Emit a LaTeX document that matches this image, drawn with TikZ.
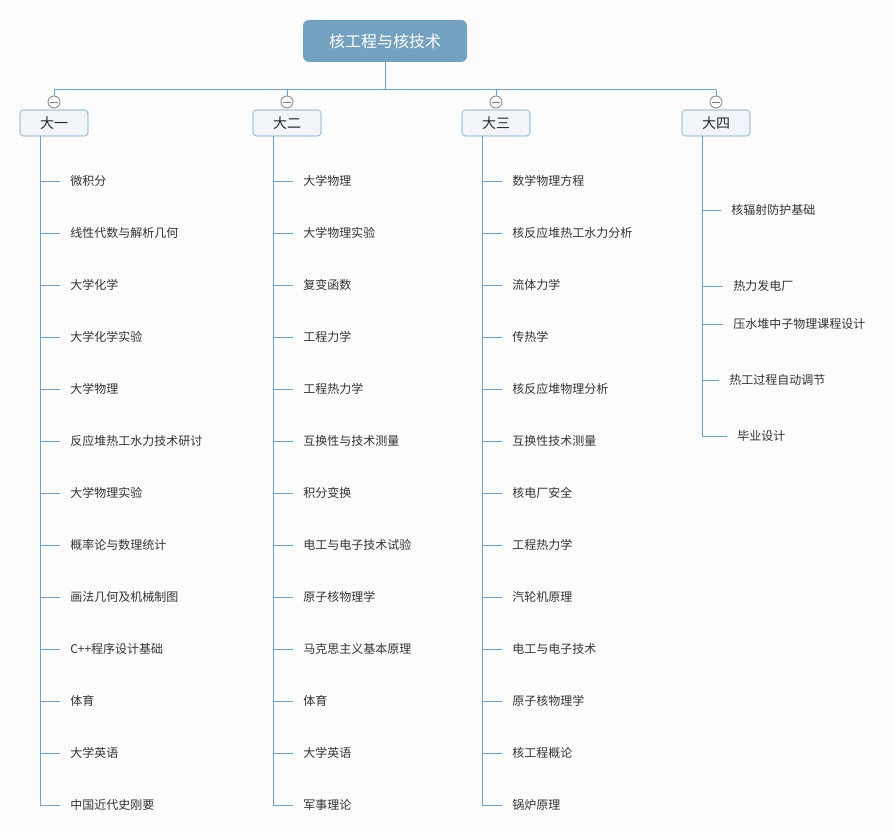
\documentclass[tikz,border=0pt]{standalone}
\usepackage{fontspec}
\setmainfont{Noto Sans CJK SC}
\usetikzlibrary{positioning}
\definecolor{rootblue}{HTML}{74A1C0}
\definecolor{linkblue}{HTML}{6E9FC4}
\definecolor{headfill}{HTML}{F1F5F9}
\definecolor{leaftext}{HTML}{333333}
\definecolor{bggray}{HTML}{FCFCFC}
\tikzset{
  rootbox/.style={fill=rootblue,rounded corners=4.5pt,minimum width=123pt,minimum height=31.5pt,text=white,font=\fontsize{12}{14}\selectfont},
  yearbox/.style={draw=linkblue,fill=headfill,rounded corners=2.5pt,minimum width=51pt,minimum height=19.5pt,font=\fontsize{10.5}{12}\selectfont,text=black!85},
  toggle/.style={circle,draw=gray,fill=white,minimum size=9pt,inner sep=0pt,line width=0.6pt},
  course/.style={anchor=west,inner xsep=7.5pt,inner ysep=1pt,font=\fontsize{9}{11}\selectfont,text=leaftext},
  link/.style={draw=linkblue,line width=0.75pt},
}
\begin{document}
\begin{tikzpicture}[x=0.75pt,y=-0.75pt]
\fill[bggray] (0,0) rectangle (895,838);
\useasboundingbox (0,0) rectangle (895,838);
% root and years
\node[rootbox] (root) at (385,41) {核工程与核技术};
\coordinate (bus) at (385,90);
\node[yearbox] (y1) at (54,123) {大一};
\node[yearbox] (y2) at (287,123) {大二};
\node[yearbox] (y3) at (496,123) {大三};
\node[yearbox] (y4) at (716,123) {大四};
\draw[link] (root.south) -- (bus);
\draw[link] (y1.north |- bus) -- (y4.north |- bus);
\foreach \k in {1,2,3,4}{
  \node[toggle] (y\k c) at ([yshift=5.8pt]y\k.north) {};
  \draw[link] (y\k c.north |- bus) -- (y\k c.north);
  \draw[gray,line width=0.6pt] ([xshift=-3pt]y\k c.center) -- ([xshift=3pt]y\k c.center);
}
% 大一
\foreach \t [count=\i] in {微积分,线性代数与解析几何,大学化学,大学化学实验,大学物理,反应堆热工水力技术研讨,大学物理实验,概率论与数理统计,画法几何及机械制图,C++程序设计基础,体育,大学英语,中国近代史刚要}{
  \coordinate (y1_t\i) at (40,{129+52*\i});
  \node[course] (y1_\i) at (60,{129+52*\i}) {\t};
  \draw[link] (y1_t\i) -- (y1_\i.west);
}
\draw[link] (y1_t1 |- y1.south) -- (y1_t13);
% 大二
\foreach \t [count=\i] in {大学物理,大学物理实验,复变函数,工程力学,工程热力学,互换性与技术测量,积分变换,电工与电子技术试验,原子核物理学,马克思主义基本原理,体育,大学英语,军事理论}{
  \coordinate (y2_t\i) at (273,{129+52*\i});
  \node[course] (y2_\i) at (293,{129+52*\i}) {\t};
  \draw[link] (y2_t\i) -- (y2_\i.west);
}
\draw[link] (y2_t1 |- y2.south) -- (y2_t13);
% 大三
\foreach \t [count=\i] in {数学物理方程,核反应堆热工水力分析,流体力学,传热学,核反应堆物理分析,互换性技术测量,核电厂安全,工程热力学,汽轮机原理,电工与电子技术,原子核物理学,核工程概论,锅炉原理}{
  \coordinate (y3_t\i) at (482,{129+52*\i});
  \node[course] (y3_\i) at (502,{129+52*\i}) {\t};
  \draw[link] (y3_t\i) -- (y3_\i.west);
}
\draw[link] (y3_t1 |- y3.south) -- (y3_t13);
% 大四
\foreach \x/\y/\t [count=\i] in {721/210/核辐射防护基础,723/286/热力发电厂,723/324/压水堆中子物理课程设计,719/380/热工过程自动调节,727/436/毕业设计}{
  \coordinate (y4_t\i) at (702,\y);
  \node[course] (y4_\i) at (\x,\y) {\t};
  \draw[link] (y4_t\i) -- (y4_\i.west);
}
\draw[link] (y4_t1 |- y4.south) -- (y4_t5);
\end{tikzpicture}
\end{document}
